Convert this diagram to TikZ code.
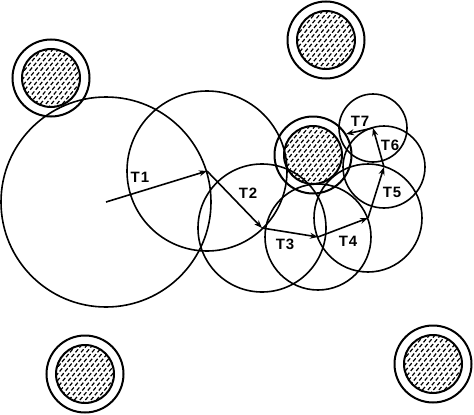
\documentclass[tikz,border=0pt]{standalone}
\usepackage{fontspec}
\setmainfont{Liberation Sans}
\usetikzlibrary{arrows.meta,calc}
\tikzset{
  reach/.style={line width=1.6pt},
  ring/.style={line width=2pt},
  move/.style={line width=1.6pt,-{Stealth[length=8pt,width=6pt]}},
  lbl/.style={font=\fontsize{15}{15}\selectfont\bfseries,inner sep=0pt},
}
\newcommand{\obst}[2]{%
  \coordinate (#1) at #2;
  \draw[ring] (#1) circle (38.5);
  \begin{scope}
    \clip (#1) circle (29);
    \foreach \k in {-12,...,12}{
      \draw[line width=1.2pt,dash pattern=on 4pt off 2.2pt]
        ($(#1)+(\k*5.5,0)+(-40*0.64,40*0.77)$) -- ++(80*0.64,-80*0.77);
    }
  \end{scope}
  \draw[ring] (#1) circle (29);
}
\begin{document}
\begin{tikzpicture}[x=1pt,y=-1pt]
\useasboundingbox (0,0) rectangle (474,415);
% path points
\coordinate (s0) at (106,202);
\coordinate (s1) at (207,171);
\coordinate (s2) at (262,228);
\coordinate (s3) at (318,237);
\coordinate (s4) at (368,218);
\coordinate (s5) at (384,167);
\coordinate (s6) at (373,128);
\coordinate (s7) at (346,134);
% reach circles
\draw[reach] (s0) circle (105);
\draw[reach] (s1) circle (80);
\draw[reach] (s2) circle (64);
\draw[reach] (s3) circle (53);
\draw[reach] (s4) circle (54);
\draw[reach] (s5) circle (41);
\draw[reach] (s6) circle (34);
% obstacles
\obst{o1}{(51,78)}
\obst{o2}{(326,40)}
\obst{o3}{(313,155)}
\obst{o4}{(85,374)}
\obst{o5}{(433,364)}
% moves
\draw[move] (s0) -- (s1);
\draw[move] (s1) -- (s2);
\draw[move] (s2) -- (s3);
\draw[move] (s3) -- (s4);
\draw[move] (s4) -- (s5);
\draw[move] (s5) -- (s6);
\draw[move] (s6) -- (s7);
% labels
\node[lbl] (t1) at (140,177) {T\kern1pt1};
\node[lbl] (t2) at (248,193) {T\kern1pt2};
\node[lbl] (t3) at (285,244) {T\kern1pt3};
\node[lbl] (t4) at (348,241) {T\kern1pt4};
\node[lbl] (t5) at (392,192) {T\kern1pt5};
\node[lbl] (t6) at (390,145) {T\kern1pt6};
\node[lbl] (t7) at (360,121) {T\kern1pt7};
\end{tikzpicture}
\end{document}
